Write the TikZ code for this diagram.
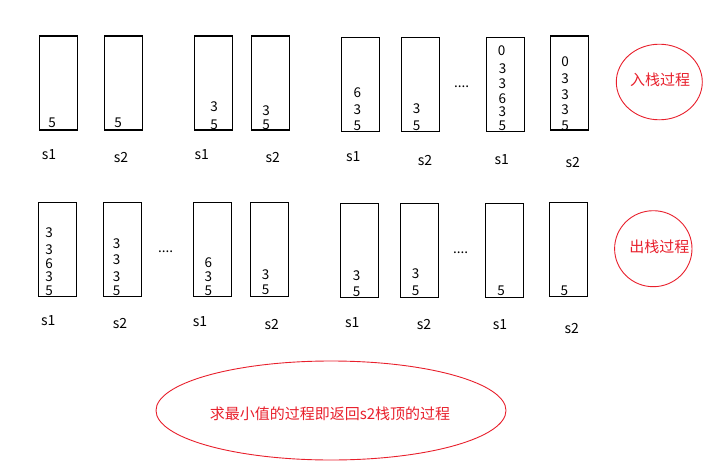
\documentclass[tikz,border=0pt]{standalone}
\usepackage{fontspec}
\setmainfont{Noto Sans CJK SC}
\usetikzlibrary{shapes.geometric}
\definecolor{redline}{RGB}{232,32,44}
\tikzset{
  stackbox/.style={draw=black,line width=1.1pt,minimum width=38pt,minimum height=94pt,inner sep=0pt},
  dig/.style={inner sep=0pt,font=\fontsize{13.5}{14}\selectfont},
  lab/.style={inner sep=0pt,font=\fontsize{14}{15}\selectfont},
  dots/.style={inner sep=0pt,font=\fontsize{13.5}{14}\selectfont},
  oval/.style={draw=redline,line width=0.9pt,ellipse,inner sep=0pt},
  redtext/.style={inner sep=0pt,text=redline,font=\fontsize{15}{16}\selectfont}
}
\begin{document}
\begin{tikzpicture}[x=1pt,y=-1pt]
\useasboundingbox (0,0) rectangle (721,474);
% ---------- top row (push) ----------
\node[stackbox] (t1) at (58.3,83) {};
\node[stackbox] (t2) at (123.3,83) {};
\node[stackbox] (t3) at (213.3,83) {};
\node[stackbox] (t4) at (270.3,83) {};
\node[stackbox] (t5) at (360.3,84.2) {};
\node[stackbox] (t6) at (420.5,84.2) {};
\node[stackbox] (t7) at (505.5,84.2) {};
\node[stackbox] (t8) at (569.3,83) {};
% digits
\node[dig] (t1a) at (52,122.7) {5};
\node[dig] (t2a) at (118,122.7) {5};
\node[dig] (t3b) at (214,106.7) {3};
\node[dig] (t3a) at (214,124.3) {5};
\node[dig] (t4b) at (266,111) {3};
\node[dig] (t4a) at (266,124.3) {5};
\node[dig] (t5c) at (357.3,92.7) {6};
\node[dig] (t5b) at (357.3,109.3) {3};
\node[dig] (t5a) at (357.3,126) {5};
\node[dig] (t6b) at (416.7,108.3) {3};
\node[dig] (t6a) at (416.7,125.3) {5};
\node[dig] (t7f) at (501.7,50.7) {0};
\node[dig] (t7e) at (502.7,69) {3};
\node[dig] (t7d) at (502.3,84) {3};
\node[dig] (t7c) at (502.3,98.3) {6};
\node[dig] (t7b) at (502.3,111.7) {3};
\node[dig] (t7a) at (502.3,125.3) {5};
\node[dig] (t8e) at (565,61.7) {0};
\node[dig] (t8d) at (565,78.7) {3};
\node[dig] (t8c) at (565,94.3) {3};
\node[dig] (t8b) at (565,110) {3};
\node[dig] (t8a) at (565,125.3) {5};
% labels
\node[lab] (tl1) at (49,155) {s1};
\node[lab] (tl2) at (121,157.7) {s2};
\node[lab] (tl3) at (201.7,155) {s1};
\node[lab] (tl4) at (272.7,158) {s2};
\node[lab] (tl5) at (353.3,156.7) {s1};
\node[lab] (tl6) at (425,160.7) {s2};
\node[lab] (tl7) at (501.7,159.3) {s1};
\node[lab] (tl8) at (572.7,162.7) {s2};
\node[dots] (tdots) at (461.7,87) {....};
\node[oval,minimum width=86pt,minimum height=75.6pt] (push) at (659.3,82) {};
\node[redtext] (pusht) at (660,80) {入栈过程};
% ---------- bottom row (pop) ----------
\node[stackbox] (b1) at (57.5,249.5) {};
\node[stackbox] (b2) at (122.5,249.5) {};
\node[stackbox] (b3) at (212.5,249.5) {};
\node[stackbox] (b4) at (269.3,249.5) {};
\node[stackbox] (b5) at (359.5,250.3) {};
\node[stackbox] (b6) at (419.5,250.3) {};
\node[stackbox] (b7) at (504.5,250.3) {};
\node[stackbox] (b8) at (568.3,249.7) {};
\node[dig] (b1e) at (49,232.7) {3};
\node[dig] (b1d) at (49,250) {3};
\node[dig] (b1c) at (49,263.5) {6};
\node[dig] (b1b) at (49,277) {3};
\node[dig] (b1a) at (49,290.5) {5};
\node[dig] (b2d) at (116.7,243.3) {3};
\node[dig] (b2c) at (116.7,260) {3};
\node[dig] (b2b) at (116.7,276.5) {3};
\node[dig] (b2a) at (116.7,290.5) {5};
\node[dig] (b3c) at (208.3,262.7) {6};
\node[dig] (b3b) at (208.3,276.5) {3};
\node[dig] (b3a) at (208.3,290.5) {5};
\node[dig] (b4b) at (265.7,275) {3};
\node[dig] (b4a) at (265.7,289.3) {5};
\node[dig] (b5b) at (356.7,276) {3};
\node[dig] (b5a) at (356.7,291.7) {5};
\node[dig] (b6b) at (415.7,274) {3};
\node[dig] (b6a) at (415.7,291) {5};
\node[dig] (b7a) at (501,291) {5};
\node[dig] (b8a) at (564.3,290.7) {5};
\node[lab] (bl1) at (48.3,321) {s1};
\node[lab] (bl2) at (120,324) {s2};
\node[lab] (bl3) at (200,321.7) {s1};
\node[lab] (bl4) at (271.7,325) {s2};
\node[lab] (bl5) at (352.3,322.7) {s1};
\node[lab] (bl6) at (424,325) {s2};
\node[lab] (bl7) at (500,325) {s1};
\node[lab] (bl8) at (571.7,328.3) {s2};
\node[dots] (bdots1) at (165.7,252) {....};
\node[dots] (bdots2) at (460.7,253) {....};
\node[oval,minimum width=77.4pt,minimum height=76pt] (pop) at (653.3,248.7) {};
\node[redtext] (popt) at (659.3,246.7) {出栈过程};
% ---------- bottom note ----------
\node[oval,minimum width=350pt,minimum height=99pt] (note) at (331,410.5) {};
\node[redtext] (notet) at (330,413.3) {求最小值的过程即返回s2栈顶的过程};
\end{tikzpicture}
\end{document}
